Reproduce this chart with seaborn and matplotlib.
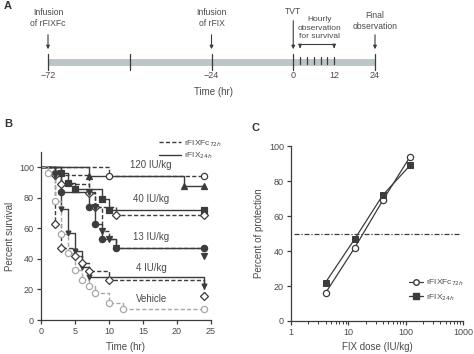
import matplotlib
matplotlib.use("Agg")
import matplotlib.pyplot as plt
from matplotlib.lines import Line2D
import seaborn as sns

# ==========================================
# --- DATA ---
# ==========================================
# Panel A: study timeline (hours relative to TVT)
TIMELINE_START = -72
TIMELINE_END = 24
MAJOR_TICKS = [-72, -48, -24, 0, 24]
MAJOR_LABELS = ["\u221272", "", "\u221224", "0", "24"]
HOURLY_TICKS = [2, 4, 6, 8, 10, 12]
HOURLY_LABEL_TICKS = [12]
EVENT_TIMES = [-72, -24, 0, 24]
EVENT_LABELS = ["Infusion\nof rFIXFc", "Infusion\nof rFIX", "TVT", "Final\nobservation"]
OBS_WINDOW = [2, 12]

# Panel B: survival curves (time in hr, percent survival)
T_120_FIX = [0, 7, 21, 24]
S_120_FIX = [100, 94, 88, 88]
T_120_FC = [0, 10, 24]
S_120_FC = [100, 94, 94]
T_40_FIX = [0, 3, 4, 5, 9, 10, 24]
S_40_FIX = [100, 96, 90, 86, 79, 72, 72]
T_40_FC = [0, 2, 3, 7, 8, 11, 24]
S_40_FC = [100, 95, 89, 83, 74, 69, 69]
T_13_FIX = [0, 3, 7, 8, 9, 11, 24]
S_13_FIX = [100, 84, 74, 63, 53, 47, 47]
T_13_FC = [0, 2, 7, 8, 9, 10, 11, 24]
S_13_FC = [100, 95, 84, 74, 58, 53, 47, 42]
T_4_FIX = [0, 2, 3, 4, 5, 6, 7, 24]
S_4_FIX = [100, 96, 73, 57, 45, 35, 28, 22]
T_4_FC = [0, 2, 3, 5, 6, 7, 10, 24]
S_4_FC = [100, 63, 47, 42, 37, 32, 26, 16]
T_VEH = [0, 1, 2, 3, 4, 5, 6, 7, 8, 10, 12, 24]
S_VEH = [100, 96, 78, 56, 44, 33, 26, 22, 18, 11, 7, 7]

DOSE_LABELS = ["120 IU/kg", "40 IU/kg", "13 IU/kg", "4 IU/kg", "Vehicle"]
DOSE_LABEL_Y = [98, 76, 51, 31, 10.5]

# Panel C: percent protection vs dose
DOSES = [4, 13, 40, 120]
PROT_FC = [16, 42, 69, 94]
PROT_FIX = [22, 47, 72, 89]
ED50_LEVEL = 50

# ==========================================
# --- STYLE ---
# ==========================================
DARK = "#3c3c3c"
TEXT = "#4a4a4a"
VEH_GRAY = "#a8a8a8"
BAR_GRAY = "#bcc6c6"
DASH = (0, (3, 1.6))
FS = 6.5

sns.set_style("ticks")
plt.rcParams["font.family"] = ["Liberation Sans", "DejaVu Sans"]
plt.rcParams["axes.edgecolor"] = DARK
plt.rcParams["xtick.color"] = DARK
plt.rcParams["ytick.color"] = DARK
plt.rcParams["xtick.labelcolor"] = TEXT
plt.rcParams["ytick.labelcolor"] = TEXT
plt.rcParams["axes.labelcolor"] = TEXT
plt.rcParams["axes.linewidth"] = 0.9
plt.rcParams["xtick.major.size"] = 3
plt.rcParams["ytick.major.size"] = 3

fig = plt.figure(figsize=(4.74, 3.54), dpi=100)


def fx(px):
    return px / 474


def fy(px):
    return 1 - px / 354


# ==========================================
# --- PANEL A: timeline ---
# ==========================================
px_per_hr = (375 - 48) / (TIMELINE_END - TIMELINE_START)
ax_a = fig.add_axes([0, fy(110), 1, 110 / 354])
ax_a.set_xlim(TIMELINE_START - 48 / px_per_hr, TIMELINE_END + (474 - 375) / px_per_hr)
ax_a.set_ylim(110, 0)
ax_a.axis("off")

bar_y = 62
ax_a.plot([TIMELINE_START, TIMELINE_END], [bar_y, bar_y], color=BAR_GRAY, lw=5,
          solid_capstyle="butt", zorder=1)
for t, lab in zip(MAJOR_TICKS, MAJOR_LABELS):
    ax_a.plot([t, t], [bar_y - 8, bar_y + 8], color=DARK, lw=0.9, zorder=2)
    if lab:
        ax_a.text(t, 76, lab, ha="center", va="center", fontsize=FS, color=TEXT)
for t in HOURLY_TICKS:
    ax_a.plot([t, t], [bar_y - 5, bar_y + 2], color=DARK, lw=0.9, zorder=2)
for t in HOURLY_LABEL_TICKS:
    ax_a.text(t, 76, str(t), ha="center", va="center", fontsize=FS, color=TEXT)
ax_a.text((TIMELINE_START + TIMELINE_END) / 2 + 0.5, 92, "Time (hr)", ha="center",
          va="center", fontsize=FS + 0.5, color=TEXT)

arrow_kw = dict(arrowstyle="-|>", color=DARK, lw=0.8, mutation_scale=5)
for t, lab in zip(EVENT_TIMES, EVENT_LABELS):
    top = 18 if lab == "TVT" else 32
    ax_a.annotate("", xy=(t, 52), xytext=(t, top), arrowprops=arrow_kw)
    if lab == "TVT":
        text_y = 12
    elif lab.startswith("Final"):
        text_y = 21
    else:
        text_y = 18
    ax_a.text(t, text_y, lab, ha="center", va="center", fontsize=FS - 0.3,
              color=TEXT, linespacing=1.3)

# observation bracket
w0, w1 = OBS_WINDOW
ax_a.plot([w0, w1], [44, 44], color=DARK, lw=0.8)
for t in OBS_WINDOW:
    ax_a.annotate("", xy=(t, 51), xytext=(t, 44), arrowprops=arrow_kw)
ax_a.text((w0 + w1) / 2 + 0.8, 28, "Hourly\nobservation\nfor survival", ha="center",
          va="center", fontsize=FS - 0.5, color=TEXT, linespacing=1.3)

fig.text(fx(4), fy(6), "A", fontsize=8, fontweight="bold", color="#333333",
         va="center")

# ==========================================
# --- PANEL B: survival ---
# ==========================================
ax_b = fig.add_axes([fx(41), fy(320), 170 / 474, 168 / 354])

curves = [
    (T_120_FIX, S_120_FIX, "-", "^", DARK, DARK, 4.5),
    (T_120_FC, S_120_FC, DASH, "o", DARK, "white", 4.5),
    (T_40_FIX, S_40_FIX, "-", "s", DARK, DARK, 4.5),
    (T_40_FC, S_40_FC, DASH, "D", DARK, "white", 4),
    (T_13_FIX, S_13_FIX, "-", "o", DARK, DARK, 4.5),
    (T_13_FC, S_13_FC, DASH, "v", DARK, DARK, 4.5),
    (T_4_FIX, S_4_FIX, "-", "v", DARK, DARK, 3.5),
    (T_4_FC, S_4_FC, DASH, "D", DARK, "white", 4),
    (T_VEH, S_VEH, DASH, "o", VEH_GRAY, "white", 4.5),
]
for t, s, ls, mk, col, face, ms in curves:
    sns.lineplot(x=t, y=s, ax=ax_b, drawstyle="steps-post", color=col,
                 linestyle=ls, lw=1.0, estimator=None, sort=False, zorder=2)
    ax_b.plot(t[1:], s[1:], linestyle="none", marker=mk, markersize=ms,
              markerfacecolor=face, markeredgecolor=col, markeredgewidth=0.9,
              zorder=3)

for lab, y in zip(DOSE_LABELS, DOSE_LABEL_Y):
    ax_b.text(16.2, y, lab, ha="center", va="bottom", fontsize=FS + 0.5, color=TEXT)

ax_b.set_xlim(0, 25)
ax_b.set_ylim(0, 110)
ax_b.set_xticks(range(0, 26, 5))
ax_b.set_yticks(range(0, 101, 20))
ax_b.tick_params(labelsize=FS, width=0.9, pad=2)
ax_b.set_xlabel("Time (hr)", fontsize=FS + 0.5, labelpad=4)
ax_b.set_ylabel("Percent survival", fontsize=FS + 0.5, labelpad=3)
sns.despine(ax=ax_b)

leg_handles = [
    Line2D([], [], color=DARK, lw=1.0, linestyle=DASH, label=r"rFIXFc$_{72h}$"),
    Line2D([], [], color=DARK, lw=1.0, linestyle="-", label=r"rFIX$_{24h}$"),
]
ax_b.legend(handles=leg_handles, loc="upper right", bbox_to_anchor=(fx(226), fy(134)),
            bbox_transform=fig.transFigure, frameon=False, fontsize=FS - 0.5,
            handlelength=2.6, labelspacing=0.25, handletextpad=0.4, borderpad=0,
            labelcolor=TEXT)
fig.text(fx(4), fy(124), "B", fontsize=8, fontweight="bold", color="#333333",
         va="center")

# ==========================================
# --- PANEL C: protection vs dose ---
# ==========================================
ax_c = fig.add_axes([fx(291), fy(321), 172 / 474, 175 / 354])
sns.lineplot(x=DOSES, y=PROT_FC, ax=ax_c, color=DARK, lw=0.9, marker="o",
             markersize=4.5, markerfacecolor="white", markeredgecolor=DARK,
             markeredgewidth=0.9, estimator=None, sort=False)
sns.lineplot(x=DOSES, y=PROT_FIX, ax=ax_c, color=DARK, lw=0.9, marker="s",
             markersize=4.5, markerfacecolor=DARK, markeredgecolor=DARK,
             estimator=None, sort=False)
ax_c.axhline(ED50_LEVEL, xmin=0.02, xmax=0.99, color=DARK, lw=0.9,
             linestyle=(0, (4, 1.5, 1, 1.5)))
ax_c.set_xscale("log")
ax_c.set_xlim(1, 1000)
ax_c.set_ylim(0, 100)
ax_c.set_xticks([1, 10, 100, 1000])
ax_c.set_xticklabels(["1", "10", "100", "1000"])
ax_c.set_yticks(range(0, 101, 20))
ax_c.tick_params(labelsize=FS, width=0.9, pad=2)
ax_c.tick_params(which="minor", length=2, width=0.7)
ax_c.set_xlabel("FIX dose (IU/kg)", fontsize=FS + 0.5, labelpad=4)
ax_c.set_ylabel("Percent of protection", fontsize=FS + 0.5, labelpad=4)
sns.despine(ax=ax_c)

leg_c = [
    Line2D([], [], color=DARK, lw=0.9, marker="o", markersize=4,
           markerfacecolor="white", markeredgecolor=DARK, label=r"rFIXFc$_{72h}$"),
    Line2D([], [], color=DARK, lw=0.9, marker="s", markersize=4,
           markerfacecolor=DARK, markeredgecolor=DARK, label=r"rFIX$_{24h}$"),
]
ax_c.legend(handles=leg_c, loc="lower right", bbox_to_anchor=(fx(468), fy(307)),
            bbox_transform=fig.transFigure, frameon=False, fontsize=FS - 0.5,
            handlelength=1.6, labelspacing=0.5, handletextpad=0.4, borderpad=0,
            labelcolor=TEXT)
fig.text(fx(252), fy(128), "C", fontsize=8, fontweight="bold", color="#333333",
         va="center")

fig.savefig("out.png", dpi=100)
